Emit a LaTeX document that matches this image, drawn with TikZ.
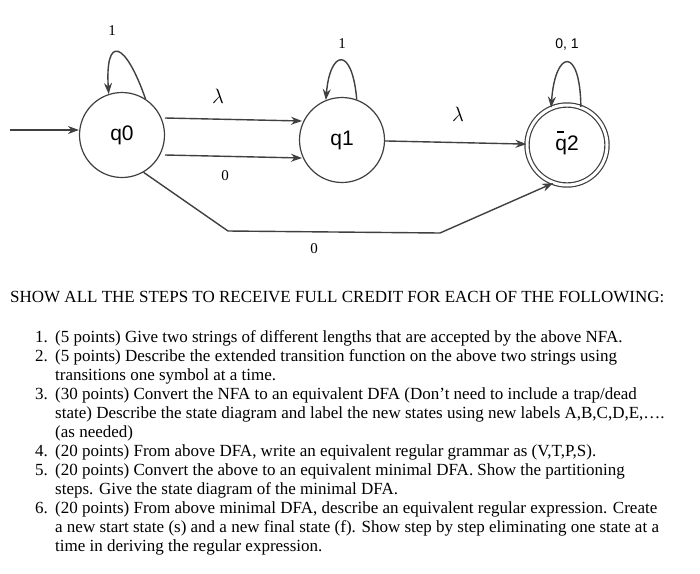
\documentclass[tikz,border=0pt]{standalone}
\usepackage{fontspec}
\setmainfont{Liberation Serif}
\newfontfamily\sflab{Liberation Sans}
\usetikzlibrary{arrows.meta}
\begin{document}
\begin{tikzpicture}[x=1pt,y=-1pt,
  st/.style={circle,draw=black!75,line width=1.2pt,minimum size=85pt,inner sep=0pt,font=\sflab\fontsize{21}{21}\selectfont},
  ed/.style={draw=black!75,line width=1.4pt,-{Stealth[length=11pt,width=8pt]}},
  lab/.style={font=\fontsize{15}{15}\selectfont},
  tl/.style={anchor=base west,inner sep=0pt,font=\fontsize{17}{17}\selectfont},
  nm/.style={anchor=base east,inner sep=0pt,font=\fontsize{17}{17}\selectfont}]
\useasboundingbox (0,0) rectangle (700,573);
\fill[white] (0,0) rectangle (700,573);
\node[st] (q0) at (122,135) {q0};
\node[st] (q1) at (342,140) {q1};
\node[st,double,double distance=3pt,minimum size=80pt] (q2) at (567,145) {q2};
\coordinate (bar1) at (557,132); \coordinate (bar2) at (564,132);
\draw[line width=1.2pt] (bar1) -- (bar2);
\coordinate (s) at (10,130);
\draw[ed] (s) -- (q0.west|-s);
\draw[ed] (q0.57) .. controls (125,40) and (105,35) .. (q0.108);
\draw[ed] (q1.70) .. controls (352,45) and (330,50) .. (q1.112);
\draw[ed] (q2.70) .. controls (580,45) and (555,50) .. (q2.113);
\coordinate (a1) at (165,118); \coordinate (a2) at (302,121);
\coordinate (b1) at (165,155); \coordinate (b2) at (302,158);
\draw[ed] (a1) -- (a2);
\draw[ed] (b1) -- (b2);
\draw[ed] (q1) -- (q2);
\draw[ed] (q0.300) -- (228,231) -- (440,233) -- (q2.250);
\node[lab] (l1) at (112,31) {1};
\node[lab] (l2) at (342,44) {1};
\node[lab,font=\sflab\fontsize{14}{14}\selectfont] (l3) at (567,45) {0, 1};
\node[lab,font=\fontsize{20}{20}\selectfont] (l4) at (218,96) {$\lambda$};
\node[lab,font=\fontsize{20}{20}\selectfont] (l5) at (458,114) {$\lambda$};
\node[lab] (l6) at (225,176) {0};
\node[lab] (l7) at (314,249) {0};
\node[tl] (h) at (10,302) {SHOW ALL THE STEPS TO RECEIVE FULL CREDIT FOR EACH OF THE FOLLOWING:};
\node[nm] (n1) at (48,342) {1.};
\node[tl] (t1) at (55,342) {(5 points) Give two strings of different lengths that are accepted by the above NFA.};
\node[nm] (n2) at (48,361) {2.};
\node[tl] (t2a) at (55,361) {(5 points) Describe the extended transition function on the above two strings using};
\node[tl] (t2b) at (55,380) {transitions one symbol at a time.};
\node[nm] (n3) at (48,399) {3.};
\node[tl] (t3a) at (55,399) {(30 points) Convert the NFA to an equivalent DFA (Don't need to include a trap/dead};
\node[tl] (t3b) at (55,418) {state) Describe the state diagram and label the new states using new labels A,B,C,D,E,\dots.};
\node[tl] (t3c) at (55,437) {(as needed)};
\node[nm] (n4) at (48,456) {4.};
\node[tl] (t4) at (55,456) {(20 points) From above DFA, write an equivalent regular grammar as (V,T,P,S).};
\node[nm] (n5) at (48,475) {5.};
\node[tl] (t5a) at (55,475) {(20 points) Convert the above to an equivalent minimal DFA. Show the partitioning};
\node[tl] (t5b) at (55,494) {steps. Give the state diagram of the minimal DFA.};
\node[nm] (n6) at (48,513) {6.};
\node[tl] (t6a) at (55,513) {(20 points) From above minimal DFA, describe an equivalent regular expression. Create};
\node[tl] (t6b) at (55,532) {a new start state (s) and a new final state (f). Show step by step eliminating one state at a};
\node[tl] (t6c) at (55,551) {time in deriving the regular expression.};
\end{tikzpicture}
\end{document}
